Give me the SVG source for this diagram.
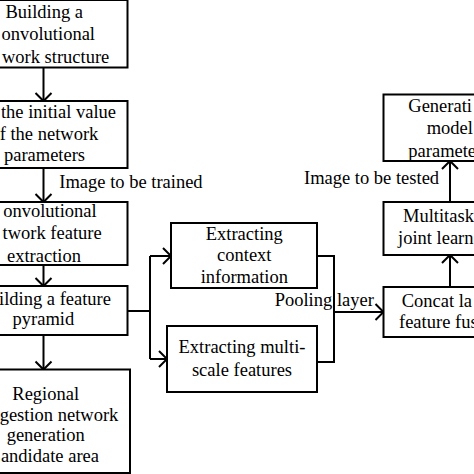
<svg xmlns="http://www.w3.org/2000/svg" width="474" height="474" viewBox="0 0 474 474">
<style>
.box{fill:#fff;stroke:#000;stroke-width:2}
.t{font-family:"Liberation Serif","Times New Roman",serif;font-size:18.5px;fill:#000}
.m{text-anchor:middle}
.e{text-anchor:end}
.c{fill:none;stroke:#000;stroke-width:2}
</style>
<defs>
<marker id="arr" markerUnits="userSpaceOnUse" markerWidth="20" markerHeight="20" viewBox="0 0 20 20" refX="10" refY="10" orient="auto">
<path d="M2,2 L10,10 L2,18" fill="none" stroke="#000" stroke-width="2"/>
</marker>
</defs>
<rect width="474" height="474" fill="#fff"/>
<g id="connectors">
<path class="c" d="M43.5,67.5 V101" marker-end="url(#arr)"/>
<path class="c" d="M43.5,168 V202" marker-end="url(#arr)"/>
<path class="c" d="M43.5,265 V286" marker-end="url(#arr)"/>
<path class="c" d="M43.5,335 V369.5" marker-end="url(#arr)"/>
<path class="c" d="M127.5,311 H150 M150,256 V359"/>
<path class="c" d="M150,256 H171" marker-end="url(#arr)"/>
<path class="c" d="M150,359 H167" marker-end="url(#arr)"/>
<path class="c" d="M317,256 H334 V362 H317"/>
<path class="c" d="M334,312 H383.5" marker-end="url(#arr)"/>
<path class="c" d="M450,287 V255" marker-end="url(#arr)"/>
<path class="c" d="M450,202 V161" marker-end="url(#arr)"/>
<text class="t" x="59.3" y="187.5">Image to be trained</text>
<text class="t" x="304" y="184">Image to be tested</text>
<text class="t" x="274.7" y="306">Pooling layer</text>
</g>
<g id="n1">
<rect class="box" x="-40" y="0" width="167.5" height="67.5"/>
<text class="t m" x="44.3" y="17.5">Building a</text>
<text class="t e" x="95" y="40">onvolutional</text>
<text class="t e" x="109.3" y="63">work structure</text>
</g>
<g id="n2">
<rect class="box" x="-40" y="101" width="167.5" height="67"/>
<text class="t e" x="116" y="117.5">the initial value</text>
<text class="t e" x="98.3" y="140">f the network</text>
<text class="t m" x="44.5" y="161">parameters</text>
</g>
<g id="n3">
<rect class="box" x="-40" y="202" width="167.5" height="63"/>
<text class="t e" x="96.7" y="216.7">onvolutional</text>
<text class="t e" x="101.7" y="239.3">twork feature</text>
<text class="t m" x="44" y="261.5">extraction</text>
</g>
<g id="n4">
<rect class="box" x="-40" y="286" width="167.5" height="49"/>
<text class="t e" x="111" y="305">ilding a feature</text>
<text class="t m" x="43.4" y="325">pyramid</text>
</g>
<g id="n5">
<rect class="box" x="-40" y="369.5" width="170" height="103.5"/>
<text class="t m" x="45.7" y="400">Regional</text>
<text class="t e" x="118.3" y="420.5">gestion network</text>
<text class="t m" x="45.7" y="441">generation</text>
<text class="t e" x="99" y="461.5">andidate area</text>
</g>
<g id="n6">
<rect class="box" x="171" y="223" width="146" height="65"/>
<text class="t m" x="244.3" y="239.5">Extracting</text>
<text class="t m" x="244.3" y="261">context</text>
<text class="t m" x="244.3" y="283">information</text>
</g>
<g id="n7">
<rect class="box" x="167" y="326" width="150" height="66"/>
<text class="t m" x="242" y="353">Extracting multi-</text>
<text class="t m" x="242" y="375.7">scale features</text>
</g>
<g id="n8">
<rect class="box" x="383.5" y="287" width="140" height="50"/>
<text class="t" x="401.7" y="306.7">Concat la</text>
<text class="t" x="399" y="328.3">feature fus</text>
</g>
<g id="n9">
<rect class="box" x="383.5" y="202" width="140" height="53"/>
<text class="t" x="403" y="221.7">Multitask</text>
<text class="t" x="398" y="244">joint learn</text>
</g>
<g id="n10">
<rect class="box" x="383.5" y="94.5" width="140" height="66.5"/>
<text class="t" x="408.3" y="111.7">Generati</text>
<text class="t" x="426.7" y="134">model</text>
<text class="t" x="408.3" y="156.5">paramete</text>
</g>
</svg>
